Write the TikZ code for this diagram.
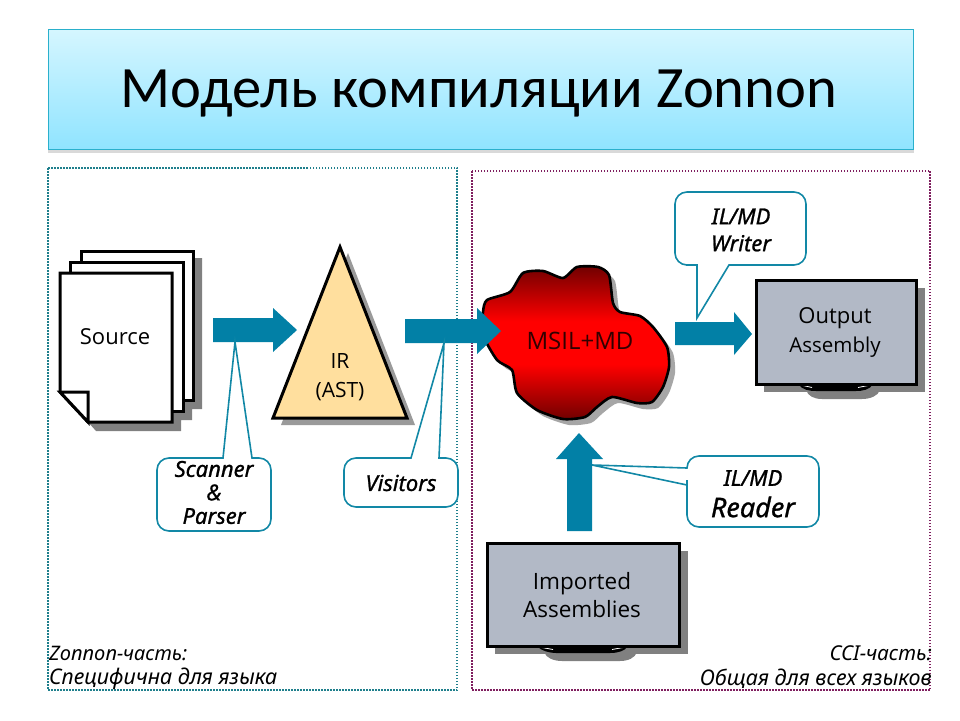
\documentclass[tikz,border=0pt]{standalone}
\usepackage{fontspec}
\setmainfont{Carlito}
\newfontfamily\labelfont{Noto Sans}
\newfontfamily\callfont[ItalicFeatures={FakeBold=1}]{Noto Sans}
\newfontfamily\boxfont{Open Sans}
\definecolor{arrowblue}{HTML}{0280A6}
\definecolor{calloutline}{HTML}{1288A6}
\definecolor{tealdot}{HTML}{1F7F8C}
\definecolor{purpledot}{HTML}{7F1F5F}
\definecolor{shadowgray}{HTML}{808080}
\definecolor{boxgray}{HTML}{B2B9C6}
\definecolor{triangfill}{HTML}{FFDF9E}
\definecolor{darkred}{HTML}{700000}
\definecolor{titletop}{HTML}{D5F6FF}
\definecolor{titlebot}{HTML}{90E4FF}
\definecolor{titleline}{HTML}{2AB0CC}
\pgfdeclareverticalshading{cloudshade}{100bp}{color(0bp)=(darkred); color(25bp)=(darkred); color(43bp)=(red); color(57bp)=(red); color(75bp)=(darkred); color(100bp)=(darkred)}
\tikzset{
  dotbox/.style={line width=1.6pt,dash pattern=on 1.5pt off 1.5pt},
  flow/.style={fill=arrowblue,draw=none},
  callout/.style={draw=calloutline,fill=white,line width=1.6pt,line join=miter},
  calltext/.style={font=\callfont\itshape\fontsize{22}{23.5}\selectfont,text=black,inner sep=0pt},
  asm/.style={draw=black,line width=3pt,fill=boxgray},
  shad/.style={fill=shadowgray,draw=none},
  page/.style={draw=black,line width=3pt,fill=white,line join=miter},
  plain/.style={font=\boxfont\fontsize{22}{26}\selectfont,text=black,inner sep=0pt},
  note/.style={font=\labelfont\itshape\fontsize{21.5}{24}\selectfont,text=black,inner sep=0pt}
}
\begin{document}
\begin{tikzpicture}[x=1pt,y=-1pt]
\useasboundingbox (0,0) rectangle (960,720);
\fill[white] (0,0) rectangle (960,720);

% title
\fill[gray!55] (49,32) rectangle (913,152);
\fill[gray!30] (48,33) rectangle (914,153);
\shade[top color=titletop,bottom color=titlebot] (48,29) rectangle (913,149);
\draw[draw=titleline,line width=0.8pt] (48,29) rectangle (913,149);
\node[inner sep=0pt,text=black,font=\fontsize{58.6}{60}\selectfont] (title) at (479,94) {Модель компиляции Zonnon};

% regions
\draw[dotbox,tealdot] (48,168) rectangle (457,690);
\draw[dotbox,purpledot] (472,171) rectangle (930,690);

% source pages
\fill[shad] (89,258) -- (202,258) -- (202,409) -- (192,409) -- (192,420) -- (181,420) -- (181,431) -- (96,431) -- (88,422) -- (68,280) -- cycle;
\draw[page] (81,251) rectangle (193,400);
\draw[page] (70,262) rectangle (183,411);
\fill[white] (56,392) -- (60,392) -- (88,424) -- (56,424) -- cycle;
\draw[page] (60,273) -- (172,273) -- (172,422) -- (88,422) -- (60,392) -- cycle;
\draw[page] (60,392) -- (88,392) -- (88,422) -- cycle;
\node[plain] (source) at (115,337) {Source};

% triangle
\fill[shadowgray!80] (348,253) -- (415,425) -- (281,425) -- cycle;
\draw[draw=black,line width=3pt,fill=triangfill,line join=miter] (340,247) -- (407,418) -- (273,418) -- cycle;
\node[plain,align=center,font=\boxfont\fontsize{21}{29}\selectfont] (ir) at (340,377) {IR\\(AST)};

% cloud
\def\cloudpath{(487,300) (510,292) (523,273) (543,271) (563,278) (577,267) (598,267) (609,275) (613,303) (620,312) (640,316) (653,327) (667,347) (669,367) (663,387) (652,402) (637,403) (612,397) (597,407) (585,417) (563,419) (537,410) (517,393) (512,370) (497,360) (483,335) (483,312)}
\begin{scope}[shift={(6,6)}]
\fill[gray!70] plot[smooth cycle,tension=0.4] coordinates {\cloudpath};
\end{scope}
\shade[shading=cloudshade] plot[smooth cycle,tension=0.4] coordinates {\cloudpath};
\draw[black,line width=2.6pt] plot[smooth cycle,tension=0.4] coordinates {\cloudpath};
\node[inner sep=0pt,font=\boxfont\fontsize{24}{26}\selectfont,text={rgb,255:red,50;green,0;blue,0}] (msil) at (580,341) {MSIL+MD};

% flow arrows
\fill[flow] (213,318) -- (273,318) -- (273,308) -- (297,330) -- (273,352) -- (273,342) -- (213,342) -- cycle;
\fill[flow] (405,319) -- (477,319) -- (477,308) -- (501,331) -- (477,354) -- (477,343) -- (405,343) -- cycle;
\fill[flow] (675,322) -- (734,322) -- (734,312) -- (752,334) -- (734,355) -- (734,345) -- (675,345) -- cycle;
\fill[flow] (567,531) -- (567,459) -- (556,459) -- (579,433) -- (603,459) -- (592,459) -- (592,531) -- cycle;

% output assembly
\fill[shad] (764,288) rectangle (925,392);
\fill[shad] (806,390) -- (880,390) .. controls (878,396) and (870,399) .. (862,399) -- (822,399) .. controls (814,399) and (808,396) .. (806,390) -- cycle;
\fill[black] (798,384) .. controls (802,390) and (810,391) .. (816,391) -- (856,391) .. controls (862,391) and (870,390) .. (873,384) -- cycle;
\draw[white,line width=0.8pt] (803,385.5) -- (812,387.5);
\draw[white,line width=0.8pt] (858,387.5) -- (868,385.5);
\draw[asm] (756,280) rectangle (916,384);
\node[plain] (outa) at (835,318) {Output};
\node[plain,font=\boxfont\fontsize{20.5}{24}\selectfont] (outb) at (835,347) {Assembly};

% imported assemblies
\fill[shad] (495,551) rectangle (688,654);
\fill[shad] (544,652) -- (637,652) .. controls (635,658) and (628,661) .. (620,661) -- (562,661) .. controls (554,661) and (546,658) .. (544,652) -- cycle;
\fill[black] (537,646) .. controls (541,651) and (550,653) .. (556,653) -- (610,653) .. controls (618,653) and (625,651) .. (628,646) -- cycle;
\draw[white,line width=0.8pt] (542,647.5) -- (553,649.5);
\draw[white,line width=0.8pt] (612,649.5) -- (623,647.5);
\draw[asm] (487,543) rectangle (679,646);
\node[plain,align=center,font=\boxfont\fontsize{22.5}{28}\selectfont] (imp) at (582,595) {Imported\\Assemblies};

% callouts
\coordinate (tipscan) at (235,342);
\coordinate (tipvis) at (444,343);
\coordinate (tipwrite) at (697,318);
\coordinate (tipread) at (592,465);
\path[callout] (169,458) [rounded corners=12pt] -- (157,458) -- (157,531) -- (271,531) -- (271,458) [sharp corners] -- (252,458) -- (tipscan) -- (223,458) -- cycle;
\path[callout] (361,458) [rounded corners=12pt] -- (344,458) -- (344,507) -- (458,507) -- (458,458) [sharp corners] -- (439,458) -- (tipvis) -- (411,458) -- cycle;
\path[callout] (686,265) [rounded corners=12pt] -- (675,265) -- (675,192) -- (806,192) -- (806,265) [sharp corners] -- (729,265) -- (tipwrite) -- (697,265) -- cycle;
\path[callout] (687,480) [rounded corners=12pt] -- (687,527) -- (819,527) -- (819,456) -- (687,456) [sharp corners] -- (687,468) -- (tipread) -- (687,485) -- cycle;

\node[calltext,align=center] (scan) at (214,492.5) {Scanner\\\&\\Parser};
\node[calltext] (vis) at (401,483) {Visitors};
\node[calltext,align=center,font=\callfont\itshape\fontsize{22}{27}\selectfont] (write) at (741,230) {IL/MD\\Writer};
\node[calltext] (reada) at (753,478) {IL/MD};
\node[calltext,font=\callfont\itshape\fontsize{27}{27}\selectfont] (readb) at (753,507) {Reader};

% notes
\node[note,anchor=west,font=\labelfont\itshape\fontsize{20}{24}\selectfont] (n1) at (49,653) {Zonnon-часть:};
\node[note,anchor=west] (n2) at (49,679) {Специфична для языка};
\node[note,anchor=east,font=\labelfont\itshape\fontsize{20.5}{24}\selectfont] (n3) at (932,653) {CCI-часть:};
\node[note,anchor=east] (n4) at (932,679) {Общая для всех языков};
\end{tikzpicture}
\end{document}
